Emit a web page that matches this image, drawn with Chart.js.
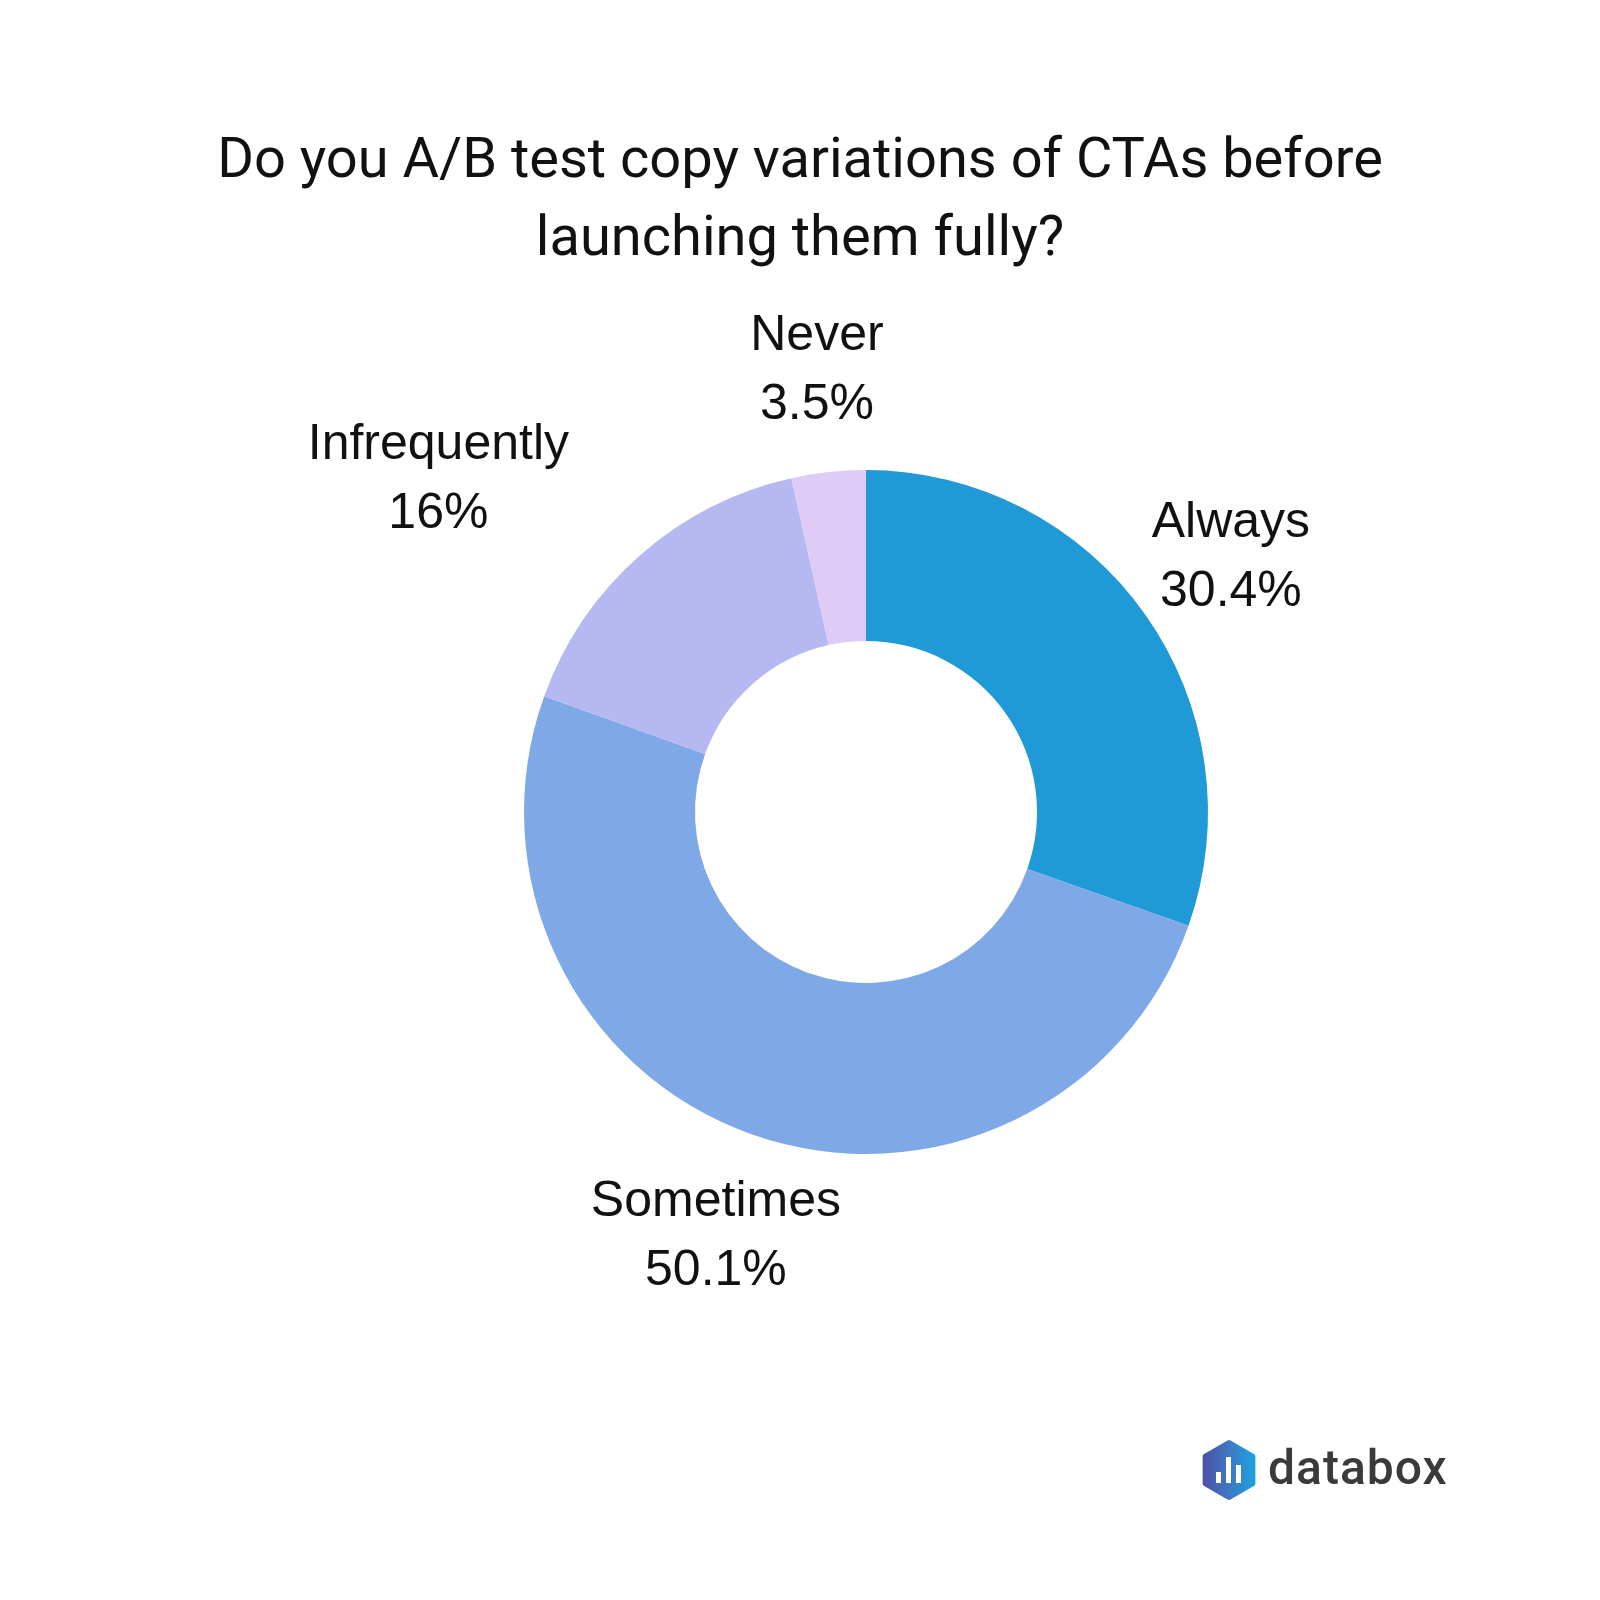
<!DOCTYPE html>
<html>
<head>
<meta charset="utf-8">
<script src="https://cdn.jsdelivr.net/npm/chart.js@4.4.1/dist/chart.umd.min.js"></script>
<style>
  html, body { margin: 0; padding: 0; background: #fff; }
  #wrap { width: 1600px; height: 1600px; position: relative; }
</style>
</head>
<body>
<div id="wrap"><canvas id="chart" width="1600" height="1600"></canvas></div>
<script>
// Survey answers, clockwise from 12 o'clock
const answers = ["Always", "Sometimes", "Infrequently", "Never"];
const shares  = [30.4, 50.1, 16, 3.5];
const colors  = ["#1F9AD6", "#7EA9E6", "#B6B8F2", "#DFCCF6"];
const titleLines = ["Do you A/B test copy variations of CTAs before", "launching them fully?"];

// label placement: distance from centre, plus a sideways nudge for crowded slices
const labelRadius = 447;
const labelNudgeX = [0, 0, -132, 0];

const overlay = {
  id: "overlay",
  afterDraw(chart) {
    const ctx = chart.ctx;
    ctx.save();

    // title
    ctx.fillStyle = "#111";
    ctx.textAlign = "center";
    ctx.textBaseline = "middle";
    ctx.font = "56px Roboto";
    ctx.fillText(titleLines[0], 800, 163);
    ctx.fillText(titleLines[1], 800, 241);

    // slice labels, positioned from the arcs themselves
    ctx.font = "50px 'Liberation Sans', Arial, sans-serif";
    chart.getDatasetMeta(0).data.forEach((arc, i) => {
      const mid = (arc.startAngle + arc.endAngle) / 2;
      const x = arc.x + Math.cos(mid) * labelRadius + labelNudgeX[i];
      const y = arc.y + Math.sin(mid) * labelRadius;
      ctx.fillText(answers[i], x, y - 31);
      ctx.fillText(shares[i] + "%", x, y + 38);
    });

    // databox logo
    const cx = 1229, cy = 1470, r = 27;
    const g = ctx.createLinearGradient(cx - 24, 0, cx + 24, 0);
    g.addColorStop(0, "#4B53A8");
    g.addColorStop(0.5, "#3F78C4");
    g.addColorStop(1, "#1FA0DD");
    ctx.beginPath();
    for (let k = 0; k < 6; k++) {
      const a = -Math.PI / 2 + k * Math.PI / 3;
      const px = cx + Math.cos(a) * r, py = cy + Math.sin(a) * r;
      k ? ctx.lineTo(px, py) : ctx.moveTo(px, py);
    }
    ctx.closePath();
    ctx.lineJoin = "round";
    ctx.lineWidth = 6;
    ctx.strokeStyle = g;
    ctx.fillStyle = g;
    ctx.fill();
    ctx.stroke();
    ctx.fillStyle = "#fff";
    ctx.fillRect(cx - 13, cy + 2, 5, 11);
    ctx.fillRect(cx - 3, cy - 13, 5, 26);
    ctx.fillRect(cx + 7, cy - 5, 5, 18);

    ctx.fillStyle = "#3a3a3c";
    ctx.textAlign = "left";
    ctx.font = "500 48px Roboto";
    ctx.letterSpacing = "1px";
    ctx.fillText("databox", 1268, 1472);

    ctx.restore();
  }
};

new Chart(document.getElementById("chart").getContext("2d"), {
  type: "doughnut",
  data: {
    labels: answers,
    datasets: [{
      data: shares,
      backgroundColor: colors,
      borderWidth: 0,
      hoverOffset: 0
    }]
  },
  options: {
    responsive: false,
    animation: false,
    cutout: "50%",
    layout: { padding: { left: 524, right: 392, top: 470, bottom: 446 } },
    plugins: {
      legend: { display: false },
      tooltip: { enabled: false }
    }
  },
  plugins: [overlay]
});
</script>
</body>
</html>
